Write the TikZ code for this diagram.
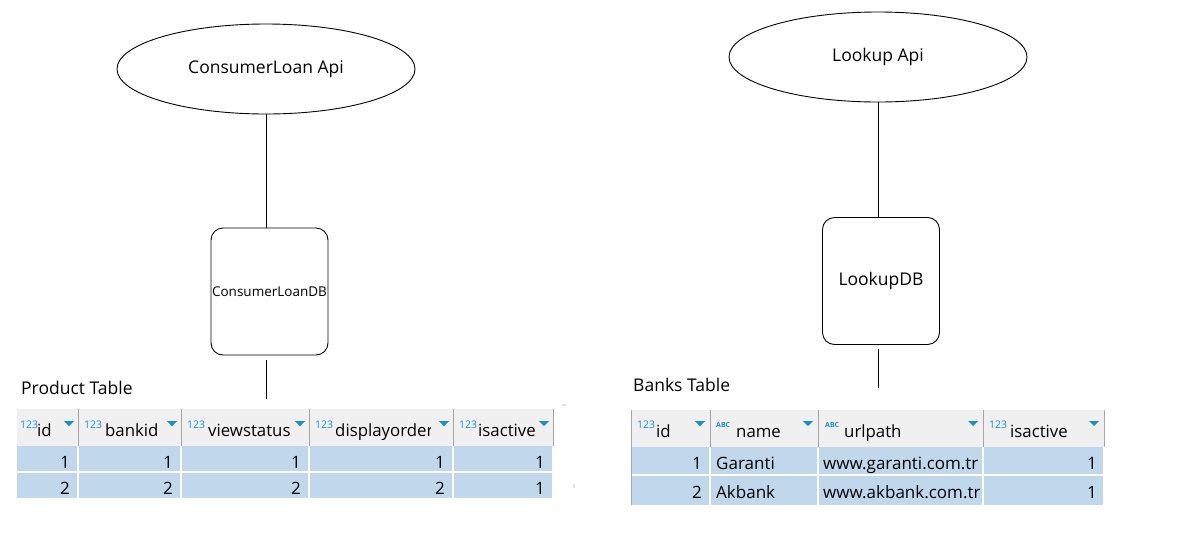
\documentclass[tikz,border=0pt]{standalone}
\usepackage{fontspec}
\setmainfont{Open Sans}
\usetikzlibrary{shapes.geometric}
\definecolor{rowblue}{RGB}{193,216,236}
\definecolor{hdrgrey}{RGB}{240,240,240}
\definecolor{hdrline}{RGB}{165,165,165}
\definecolor{iconblue}{RGB}{28,140,210}
\definecolor{faint}{RGB}{228,228,228}
\begin{document}
\begin{tikzpicture}[x=1pt,y=-1pt,
  api/.style={draw,ellipse,line width=0.9pt,minimum width=298pt,minimum height=90pt,inner sep=0pt,font=\fontsize{17.5}{20}\selectfont},
  dbbox/.style={draw,rounded corners=12pt,line width=0.9pt,minimum width=117pt,minimum height=127pt,inner sep=0pt},
  conn/.style={line width=0.9pt},
  ttl/.style={anchor=west,inner sep=0pt,font=\fontsize{17.5}{20}\selectfont},
  hdr/.style={anchor=base west,inner sep=0pt,font=\fontsize{16.8}{19}\selectfont},
  icon/.style={anchor=base west,inner sep=0pt,text=iconblue,font=\fontsize{10.5}{12}\selectfont},
  abc/.style={anchor=base west,inner sep=0pt,text=iconblue,font=\fontsize{7}{8}\selectfont\bfseries},
  cellr/.style={anchor=base east,inner sep=0pt,font=\fontsize{17}{20}\selectfont},
  celll/.style={anchor=base west,inner sep=0pt,font=\fontsize{17}{20}\selectfont}
]
\useasboundingbox[fill=white] (0,0) rectangle (1179,539);

% --- left stack
\node[api] (e1) at (266,69) {ConsumerLoan Api};
\node[dbbox] (db1) at (269.5,291.5) {\fontsize{13.5}{16}\selectfont ConsumerLoanDB};
\draw[conn] (e1.south) -- (e1.south |- db1.north);
\coordinate (l1a) at (266,360);
\coordinate (l1b) at (266,399);
\draw[conn] (l1a) -- (l1b);

% --- right stack
\node[api] (e2) at (878,57) {Lookup Api};
\node[dbbox] (db2) at (881,281) {\fontsize{17.5}{20}\selectfont LookupDB};
\draw[conn] (e2.south) -- (e2.south |- db2.north);
\coordinate (l2a) at (878,349);
\coordinate (l2b) at (878,388);
\draw[conn] (l2a) -- (l2b);

% --- Product table
\node[ttl] (pt) at (21,388) {Product Table};
\fill[hdrgrey] (17,409) rectangle (553,446);
\fill[rowblue] (17,446) rectangle (553,498);
\draw[white,line width=1.2pt] (17,472) -- (553,472);
\foreach \a/\b/\d in {17/78/3,78/181/6,181/309/6,309/453/6,453/553/6}{
  \draw[hdrline,line width=1pt] (\b,409) -- (\b,446);
  \draw[white,line width=1.2pt] (\b,446) -- (\b,498);
  \node[icon] at (\a+\d,428) {123};
  \fill[iconblue] (\b-14,421) -- (\b-4,421) -- (\b-9,426) -- cycle;
}
\begin{scope}
\clip (17,409) rectangle (430,446);
\node[hdr] (p1) at (37,436) {id};
\node[hdr] (p2) at (105,436) {bankid};
\node[hdr] (p3) at (208,436) {viewstatus};
\node[hdr] (p4) at (335,436) {displayorder};
\end{scope}
\node[hdr] (p5) at (478,436) {isactive};
\foreach \b in {78,181,309,453,553}{
  \node[cellr] at (\b-8,468) {1};
}
\foreach \b in {78,181,309,453}{
  \node[cellr] at (\b-8,494) {2};
}
\node[cellr] at (553-8,494) {1};
\draw[faint,line width=1.5pt] (562,405) -- (567,405);
\draw[faint,line width=1.5pt] (574,484) -- (574,488);

% --- Banks table
\node[ttl] (bt) at (633,385) {Banks Table};
\fill[hdrgrey] (631,410) rectangle (1104,447);
\fill[rowblue] (631,447) rectangle (1104,505);
\draw[white,line width=1.2pt] (631,475) -- (1104,475);
\foreach \b in {710,818,983,1104}{
  \draw[hdrline,line width=1pt] (\b,410) -- (\b,447);
  \draw[white,line width=1.2pt] (\b,447) -- (\b,505);
  \fill[iconblue] (\b-15,421) -- (\b-5,421) -- (\b-10,426) -- cycle;
}
\draw[hdrline,line width=1pt] (631,410) -- (631,505);
\node[icon] at (637,428) {123};
\node[abc] at (716,427) {ABC};
\node[abc] at (825,427) {ABC};
\node[icon] at (989,428) {123};
\node[hdr] (b1) at (656,437) {id};
\node[hdr] (b2) at (736,437) {name};
\node[hdr] (b3) at (844,437) {urlpath};
\node[hdr] (b4) at (1010,437) {isactive};
\node[cellr] at (702,469) {1};
\node[celll] at (716,469) {Garanti};
\node[celll] at (823,469) {www.garanti.com.tr};
\node[cellr] at (1097,469) {1};
\node[cellr] at (702,498) {2};
\node[celll] at (716,498) {Akbank};
\node[celll] at (823,498) {www.akbank.com.tr};
\node[cellr] at (1097,498) {1};
\end{tikzpicture}
\end{document}
